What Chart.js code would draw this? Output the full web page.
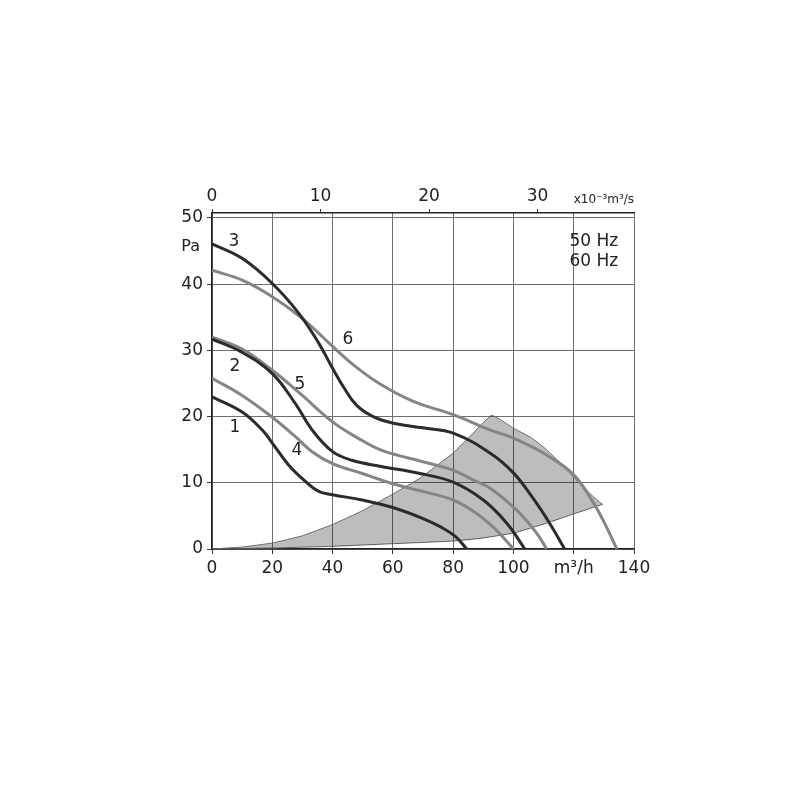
<!DOCTYPE html>
<html>
<head>
<meta charset="utf-8">
<script src="https://cdn.jsdelivr.net/npm/chart.js@4.4.0/dist/chart.umd.min.js"></script>
<style>
  html, body { margin: 0; padding: 0; background: #fff; }
  #wrap { width: 800px; height: 800px; }
</style>
</head>
<body>
<div id="wrap"><canvas id="myChart"></canvas></div>
<script>
// fan curves: [flow m3/h, pressure Pa]
// 50 Hz (dark)
const curve1 = [[0,23.0],[10,20.7],[16.6,18.0],[20,16.0],[25.4,12.7],[31,10.2],[35.4,8.7],[40,8.2],[49.8,7.4],[59.7,6.3],[70,4.6],[76,3.3],[81,1.8],[84.5,0]];
const curve2 = [[0,31.7],[10,29.7],[20,26.5],[27.6,22.0],[33.2,18.0],[40,14.7],[46.4,13.4],[55.7,12.5],[69,11.4],[80,10.1],[90,7.4],[97.8,3.9],[103.8,0]];
const curve3 = [[0,46.1],[10,43.9],[20,40.1],[28.8,35.6],[35.4,31.1],[40,27.3],[44,24.2],[48,21.7],[53.5,20.0],[60.2,19.0],[70,18.3],[80,17.5],[92.2,14.5],[100,11.5],[106.6,7.6],[112,3.9],[117,0]];
// 60 Hz (grey)
const curve4 = [[0,25.8],[10,23.2],[20,19.9],[27.6,17.0],[33.2,14.7],[40,12.9],[49.8,11.4],[59.7,9.9],[69,8.8],[80,7.4],[88,5.3],[94,3.0],[100,0]];
const curve5 = [[0,32.0],[10,30.2],[20,27.0],[29.2,23.5],[40,19.2],[49,16.6],[55.7,15.0],[62,14.1],[69,13.3],[80,11.9],[86.7,10.4],[92.2,9.2],[101,5.9],[107.7,2.4],[111,0]];
const curve6 = [[0,42.1],[10,40.6],[20,38.1],[30,34.8],[40,30.6],[46.4,28.0],[55.5,25.0],[66.8,22.3],[80,20.3],[92.2,18.0],[100.2,16.7],[111,14.2],[120,11.2],[126.5,7.0],[131,3.2],[134.3,0]];

// grey working area
const areaUpper = [[0,0],[10,0.3],[20,0.9],[30,2.0],[40,3.7],[50,5.8],[60,8.3],[69,10.7],[80,14.5],[86,17.2],[92.8,20.2],[100.2,18.2],[106,16.8],[111,15.0],[116,12.8],[120.2,10.7],[126.5,7.9],[129.6,6.75]];
const areaLower = [[0,0],[20,0.15],[40,0.4],[60,0.8],[80,1.2],[88.9,1.6],[100,2.4],[111,3.9],[120,5.3],[129.6,6.75]];

// texts
const curveLabels = ['1', '2', '3', '4', '5', '6'];
const curveLabelX = [7.6, 7.6, 7.3, 28.2, 29.2, 45.1];
const curveLabelY = [18.4, 27.6, 46.5, 14.8, 24.8, 31.6];
const freqLabels = ['50 Hz', '60 Hz'];
const freqLabelY = [46.4, 43.4];
const bottomUnit = 'm³/h';
const bottomUnitAt = 120;
const topUnit = 'x10⁻³m³/s';
const pressureUnit = 'Pa';

const dark = '#2b2b2b';
const grey = '#858585';

function pts(arr) {
    return arr.map(p => ({x: p[0], y: p[1]}));
}

function curve(arr, color) {
    return {
        data: pts(arr),
        borderColor: color,
        borderWidth: 3,
        pointRadius: 0,
        fill: false,
        tension: 0.4,
        order: 1
    };
}

const textPlugin = {
    id: 'curveText',
    afterDatasetsDraw(chart) {
        const ctx = chart.ctx;
        const xs = chart.scales.x;
        const ys = chart.scales.y;
        ctx.save();
        ctx.fillStyle = '#222';
        ctx.textBaseline = 'middle';
        ctx.textAlign = 'center';
        ctx.font = '17px "DejaVu Sans"';
        curveLabels.forEach((t, i) => {
            ctx.fillText(t, xs.getPixelForValue(curveLabelX[i]), ys.getPixelForValue(curveLabelY[i]));
        });
        freqLabels.forEach((t, i) => {
            ctx.fillText(t, xs.getPixelForValue(126.7), ys.getPixelForValue(freqLabelY[i]));
        });
        ctx.font = '16px "DejaVu Sans"';
        ctx.textAlign = 'right';
        ctx.fillText(pressureUnit, xs.getPixelForValue(-4), ys.getPixelForValue(45.6));
        ctx.font = '12px "DejaVu Sans"';
        ctx.fillText(topUnit, xs.getPixelForValue(140), chart.chartArea.top - 13);
        ctx.restore();
    }
};

const ctx = document.getElementById('myChart').getContext('2d');
const chart = new Chart(ctx, {
    type: 'line',
    data: {
        datasets: [
            curve(curve1, dark),
            curve(curve2, dark),
            curve(curve3, dark),
            curve(curve4, grey),
            curve(curve5, grey),
            curve(curve6, grey),
            {
                data: pts(areaUpper),
                borderColor: '#6a6a6a',
                borderWidth: 1,
                backgroundColor: 'rgba(0,0,0,0.26)',
                pointRadius: 0,
                tension: 0.1,
                fill: '+1',
                order: 5
            },
            {
                data: pts(areaLower),
                borderColor: '#6a6a6a',
                borderWidth: 1,
                pointRadius: 0,
                tension: 0.1,
                fill: false,
                order: 5
            }
        ]
    },
    options: {
        responsive: true,
        maintainAspectRatio: false,
        animation: false,
        layout: { padding: { left: 0, right: 166, top: 0, bottom: 0 } },
        plugins: {
            legend: { display: false },
            tooltip: { enabled: false }
        },
        scales: {
            x: {
                type: 'linear',
                position: 'bottom',
                min: 0,
                max: 140,
                afterFit: (s) => { s.height = 251; },
                grid: { color: '#6e6e6e', lineWidth: 1, tickLength: 5, tickColor: '#333' },
                border: { color: '#222', width: 1.5 },
                ticks: {
                    stepSize: 20,
                    padding: 4,
                    color: '#222',
                    font: { family: 'DejaVu Sans', size: 17 },
                    maxRotation: 0,
                    autoSkip: false,
                    callback: (v) => v === bottomUnitAt ? bottomUnit : v
                }
            },
            x2: {
                type: 'linear',
                position: 'top',
                min: 0,
                max: 140 / 3.6,
                afterFit: (s) => { s.height = 213; },
                grid: { display: true, drawOnChartArea: false, tickLength: 4, tickColor: '#333' },
                border: { color: '#222', width: 1.5 },
                ticks: {
                    stepSize: 10,
                    includeBounds: false,
                    autoSkip: false,
                    padding: 2,
                    color: '#222',
                    font: { family: 'DejaVu Sans', size: 17 },
                    maxRotation: 0
                }
            },
            y: {
                type: 'linear',
                position: 'left',
                min: 0,
                max: 50.75,
                afterFit: (s) => { s.width = 212; },
                grid: { color: '#6e6e6e', lineWidth: 1, tickLength: 5, tickColor: '#333' },
                border: { color: '#222', width: 1.5 },
                ticks: {
                    stepSize: 10,
                    includeBounds: false,
                    padding: 4,
                    color: '#222',
                    font: { family: 'DejaVu Sans', size: 17 }
                }
            }
        }
    },
    plugins: [textPlugin]
});
</script>
</body>
</html>
